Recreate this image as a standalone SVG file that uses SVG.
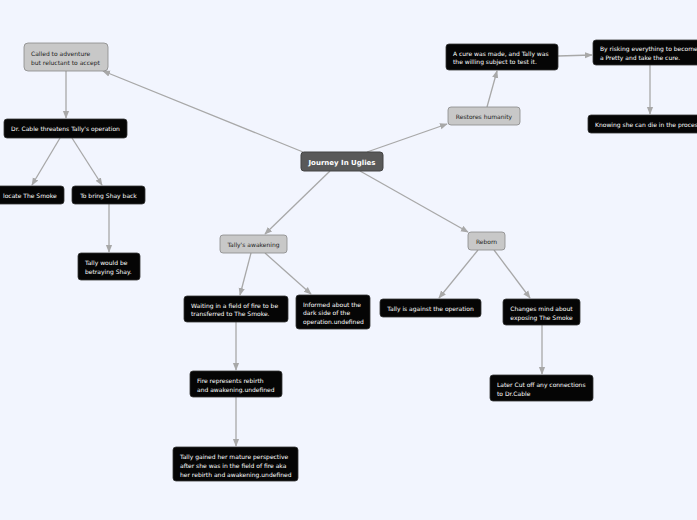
<svg xmlns="http://www.w3.org/2000/svg" width="697" height="520" viewBox="0 0 697 520">
<style>
text{font-family:"DejaVu Sans",sans-serif;font-size:6px;fill:#fff}
.d rect{fill:#050505;stroke:#333;stroke-width:0.8}
.g rect{fill:#c8c8c8;stroke:#888;stroke-width:0.8}
.g text{fill:#222}
#conn path{stroke:#a8a8a8;stroke-width:1.3;fill:none;marker-end:url(#a)}
</style>
<defs><marker id="a" viewBox="0 0 10 10" refX="9" refY="5" markerWidth="6" markerHeight="6" orient="auto"><path d="M0,1 L10,5 L0,9 z" fill="#a8a8a8"/></marker></defs>
<rect width="697" height="520" fill="#f2f5fe"/>
<g id="conn">
<path d="M303,152 L103,71"/>
<path d="M66,71 L66,118"/>
<path d="M60,138 L32,185"/>
<path d="M72,138 L102,185"/>
<path d="M109,204 L109,252"/>
<path d="M330,171 L265,234"/>
<path d="M251,253 L240,295"/>
<path d="M265,253 L311,294"/>
<path d="M236,322 L236,370"/>
<path d="M236,397 L236,446"/>
<path d="M360,171 L468,232"/>
<path d="M478,250 L439,298"/>
<path d="M494,250 L530,298"/>
<path d="M542,325 L542,374"/>
<path d="M367,152 L447,124"/>
<path d="M487,107 L497,71"/>
<path d="M558,56 L592,55"/>
<path d="M650,65 L650,114"/>
</g>
<g id="n0"><rect x="301" y="152" width="82" height="19" rx="3" fill="#595959" stroke="#444"/><text x="342" y="164.5" text-anchor="middle" style="font-weight:bold;font-size:7px">Journey In Uglies</text></g>
<g id="n1" class="g"><rect x="24" y="43" width="84" height="28" rx="4"/><text x="31" y="56">Called to adventure</text><text x="31" y="64.5">but reluctant to accept</text></g>
<g id="n2" class="d"><rect x="4" y="119" width="123" height="19" rx="3"/><text x="65.5" y="131" text-anchor="middle">Dr. Cable threatens Tally's operation</text></g>
<g id="n3" class="d"><rect x="-20" y="186" width="84" height="18" rx="3"/><text x="3" y="197.5">locate The Smoke</text></g>
<g id="n4" class="d"><rect x="72" y="186" width="73" height="18" rx="3"/><text x="108.5" y="197.5" text-anchor="middle">To bring Shay back</text></g>
<g id="n5" class="d"><rect x="78" y="253" width="62" height="27" rx="3"/><text x="85" y="265">Tally would be</text><text x="85" y="274">betraying Shay.</text></g>
<g id="n6" class="g"><rect x="220" y="235" width="67" height="18" rx="3"/><text x="253.5" y="246.5" text-anchor="middle">Tally's awakening</text></g>
<g id="n7" class="d"><rect x="184" y="296" width="104" height="26" rx="3"/><text x="191" y="307.5">Waiting in a field of fire to be</text><text x="191" y="316">transferred to The Smoke.</text></g>
<g id="n8" class="d"><rect x="296" y="295" width="74" height="34" rx="3"/><text x="303" y="306.5">Informed about the</text><text x="303" y="315">dark side of the</text><text x="303" y="324">operation.undefined</text></g>
<g id="n9" class="d"><rect x="190" y="371" width="92" height="26" rx="3"/><text x="197" y="382.5">Fire represents rebirth</text><text x="197" y="391.5">and awakening.undefined</text></g>
<g id="n10" class="d"><rect x="173" y="447" width="125" height="34" rx="3"/><text x="180" y="459">Tally gained her mature perspective</text><text x="180" y="467.5">after she was in the field of fire aka</text><text x="180" y="476.5">her rebirth and awakening.undefined</text></g>
<g id="n11" class="g"><rect x="468" y="232" width="37" height="18" rx="3"/><text x="486.5" y="243.5" text-anchor="middle">Reborn</text></g>
<g id="n12" class="d"><rect x="380" y="299" width="101" height="18" rx="3"/><text x="430.5" y="310.5" text-anchor="middle">Tally is against the operation</text></g>
<g id="n13" class="d"><rect x="503" y="299" width="77" height="26" rx="3"/><text x="541.5" y="310.5" text-anchor="middle">Changes mind about</text><text x="541.5" y="319.5" text-anchor="middle">exposing The Smoke</text></g>
<g id="n14" class="d"><rect x="490" y="375" width="103" height="26" rx="3"/><text x="497" y="386.5">Later Cut off any connections</text><text x="497" y="395.5">to Dr.Cable</text></g>
<g id="n15" class="g"><rect x="448" y="107" width="72" height="18" rx="3"/><text x="484" y="118.5" text-anchor="middle">Restores humanity</text></g>
<g id="n16" class="d"><rect x="446" y="44" width="112" height="26" rx="3"/><text x="453" y="55.5">A cure was made, and Tally was</text><text x="453" y="64">the willing subject to test it.</text></g>
<g id="n17" class="d"><rect x="593" y="40" width="115" height="25" rx="3"/><text x="600" y="50.5">By risking everything to become</text><text x="600" y="59.5">a Pretty and take the cure.</text></g>
<g id="n18" class="d"><rect x="588" y="115" width="120" height="18" rx="3"/><text x="595" y="127">Knowing she can die in the process</text></g>
</svg>
